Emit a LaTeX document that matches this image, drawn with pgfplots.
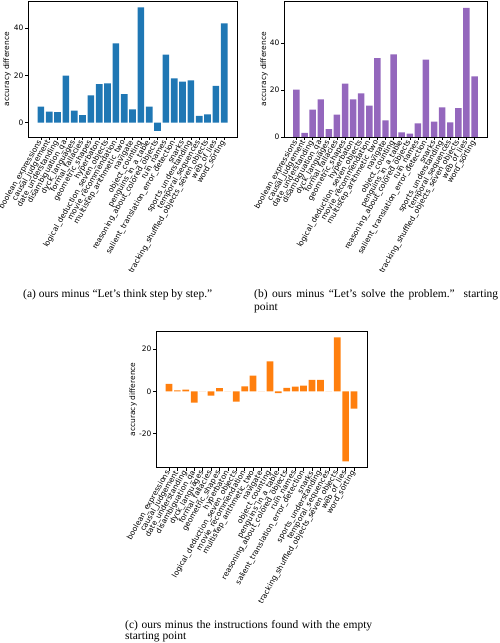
\documentclass[border=0pt]{standalone}
\usepackage{pgfplots}
\usepackage{pgfplotstable}
\pgfplotsset{compat=1.18}
\usepackage{fontspec}
\setmainfont{Liberation Serif}
\newfontfamily\djv{DejaVu Sans}
\definecolor{mblue}{HTML}{1F77B4}
\definecolor{mpurple}{HTML}{9467BD}
\definecolor{morange}{HTML}{FF7F0E}

\pgfplotstableread{
idx a b c
0 6.8 20.2 3.5
1 4.6 1.8 0.5
2 4.4 11.7 0.8
3 19.9 16.0 -5.4
4 5.1 3.4 0.0
5 3.1 9.5 -2.0
6 11.5 22.7 1.5
7 16.3 16.0 0.0
8 16.6 18.6 -4.9
9 33.5 13.4 2.4
10 12.0 33.6 7.4
11 5.6 7.1 0.0
12 48.7 35.2 14.2
13 6.8 2.0 -0.8
14 -3.5 1.4 1.6
15 28.7 5.8 2.2
16 18.7 32.9 2.7
17 17.3 6.5 5.4
18 17.9 12.6 5.4
19 2.8 6.2 0.0
20 3.5 12.3 25.6
21 15.5 55.0 -33.2
22 42.0 25.8 -8.2
}\data

\newcommand{\tf}{\djv\fontsize{7.5}{8.5}\selectfont}
\pgfplotsset{bbh/.style={
  scale only axis, anchor=south west,
  ybar, bar width=0.8,
  xmin=-1.54, xmax=23.54,
  xtick={0,...,22},
  xticklabels={boolean\_expressions,causal\_judgement,date\_understanding,disambiguation\_qa,dyck\_languages,formal\_fallacies,geometric\_shapes,hyperbaton,logical\_deduction\_seven\_objects,movie\_recommendation,multistep\_arithmetic\_two,navigate,object\_counting,penguins\_in\_a\_table,reasoning\_about\_colored\_objects,ruin\_names,salient\_translation\_error\_detection,snarks,sports\_understanding,temporal\_sequences,tracking\_shuffled\_objects\_seven\_objects,web\_of\_lies,word\_sorting},
  xticklabel style={font=\tf, rotate=60, anchor=east, inner sep=1pt},
  yticklabel style={font=\tf, inner sep=1.5pt},
  ylabel={accuracy difference},
  ylabel style={font=\tf, at={(axis description cs:-0.1,0.5)}, anchor=center},
  tick align=outside, tick pos=left, major tick length=3pt,
  axis line style={line width=0.6pt},
  every tick/.style={black, line width=0.5pt},
  every axis plot/.append style={draw=none},
}}

\begin{document}
\begin{tikzpicture}
\useasboundingbox (0,0) rectangle (500pt,643pt);
\begin{axis}[bbh, at={(28pt,506pt)}, width=209pt, height=135.7pt,
  ymin=-6.1, ymax=51.3, ytick={0,20,40}, yticklabels={0,20,40}]
\addplot[fill=mblue] table[x=idx,y=a]{\data};
\end{axis}
\begin{axis}[bbh, at={(284pt,506pt)}, width=203pt, height=135.7pt,
  ymin=0, ymax=57.75, ytick={0,20,40}, yticklabels={0,20,40},
  ylabel style={at={(axis description cs:-0.0985,0.5)}}]
\addplot[fill=mpurple] table[x=idx,y=b]{\data};
\end{axis}
\begin{axis}[bbh, at={(156pt,175.5pt)}, width=211pt, height=136.3pt,
  ymin=-36.1, ymax=28.5, ytick={-20,0,20}, yticklabels={-20,0,20},
  ylabel style={at={(axis description cs:-0.109,0.5)}}]
\addplot[fill=morange] table[x=idx,y=c]{\data};
\end{axis}
\begin{scope}[every node/.style={inner sep=0pt, font=\fontsize{11.5}{13}\selectfont}]
\node[anchor=base west] at (23pt,345pt) {(a) ours minus “Let’s think step by step.”};
\node[anchor=base west] at (254pt,345pt) {\makebox[244pt][s]{(b) ours minus “Let’s solve the problem.”\ \ starting}};
\node[anchor=base west] at (254pt,332pt) {point};
\node[anchor=base west] at (125pt,15pt) {\makebox[247pt][s]{(c) ours minus the instructions found with the empty}};
\node[anchor=base west] at (125pt,3pt) {starting point};
\end{scope}
\end{tikzpicture}
\end{document}
